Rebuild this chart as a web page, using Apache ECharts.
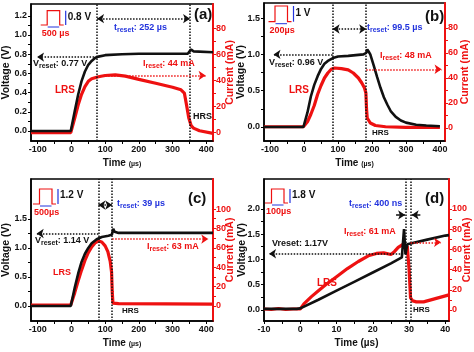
<!DOCTYPE html>
<html>
<head>
<meta charset="utf-8">
<script src="https://cdn.jsdelivr.net/npm/echarts@6/dist/echarts.min.js"></script>
<style>
  html, body { margin: 0; padding: 0; background: #fff; }
  #main { width: 474px; height: 352px; }
</style>
</head>
<body>
<div id="main"></div>
<script>
// ---- data: [time, value] ----
// panel (a)
const voltA = [[-120,0],[-2,0],[0,0.02],[10,0.21],[20,0.38],[30,0.52],[40,0.62],[50,0.69],[60,0.73],[70,0.76],[80,0.775],[100,0.79],[150,0.8],[200,0.805],[300,0.805],[345,0.805],[350,0.82],[355,0.85],[362,0.83],[420,0.82]];
const currA = [[-120,-0.5],[-2,-0.5],[0,1],[10,11],[20,21],[30,29],[40,35],[50,39],[60,41],[80,42.5],[100,43.5],[130,44],[160,43],[200,40.5],[250,37.5],[300,34.5],[325,32.5],[335,30],[342,20],[348,11],[355,5],[362,3],[380,1],[420,-1]];
// panel (b)
const voltB = [[-118,0],[-2,0],[0,0.02],[10,0.2],[20,0.42],[30,0.58],[40,0.7],[50,0.8],[60,0.87],[70,0.91],[85,0.95],[100,0.97],[130,0.98],[175,1.0],[183,1.02],[186,1.07],[190,1.04],[195,1.0],[205,0.85],[215,0.69],[225,0.54],[235,0.41],[245,0.31],[255,0.22],[270,0.14],[285,0.09],[300,0.06],[330,0.03],[360,0.02],[400,0.01]];
const currB = [[-118,1],[-2,1],[0,2],[10,5],[20,11],[30,18],[40,27],[50,34],[60,40],[70,44],[80,47],[90,48],[110,47.5],[130,46.5],[145,44],[160,40],[170,36],[178,32],[182,28],[184,15],[186,8],[195,4],[210,2],[240,1],[300,0.5],[400,0.5]];
// panel (c)
const voltC = [[-120,0],[-2,0],[0,0.02],[10,0.32],[20,0.56],[30,0.76],[40,0.9],[50,1.0],[60,1.08],[75,1.15],[90,1.19],[110,1.21],[120,1.23],[124,1.33],[128,1.28],[140,1.26],[420,1.26]];
const currC = [[-120,1],[-2,1],[0,2],[10,14],[20,26],[30,37],[40,47],[50,55],[60,61],[70,65],[80,67],[90,66],[100,62],[108,56],[115,46],[119,35],[121,15],[123,3],[140,2.5],[420,2]];
// panel (d)
const voltD = [[-10,0.02],[-1,0.02],[0,0.03],[5,0.2],[10,0.38],[15,0.56],[20,0.74],[25,0.92],[28,1.04],[28.6,1.6],[29,1.1],[29.5,1.3],[30,1.31],[35,1.39],[40,1.47],[41,1.48]];
const currD = [[-10,1],[-8,0.5],[-6,1.5],[-4,0.5],[-2,1],[0,1],[1,6],[3,13],[5,19],[7,25],[10,33],[13,41],[16,48],[19,54],[21,56],[23,56.5],[25,55],[26,58],[27,62],[28.3,65],[29.5,63],[30,40],[30.4,12],[31,9],[32,8],[34,8],[36,10],[38,12],[41,15]];

// tick labels
const timeTicks = [-100,0,100,200,300,400];
const timeTicksD = [-10,0,10,20,30,40];
const voltTicksA = [0,0.2,0.4,0.6,0.8,1.0,1.2];
const voltTicksB = [0,0.5,1.0,1.5];
const voltTicksD = [0,0.5,1.0,1.5,2.0];
const currTicks = [0,20,40,60,80];
const currTicksCD = [0,20,40,60,80,100];

// markers (dotted lines / arrows)
const resetLinesA = [76, 352], resetLinesB = [84, 183], resetLinesC = [80, 121], resetLinesD = [29.2, 30.4];

const FONT = 'Liberation Sans, Arial, sans-serif';
const RED = '#ee1111', BLUE = '#2233dd';

function halfSteps(t) {
  const out = [];
  for (let i = 0; i < t.length; i++) {
    out.push(t[i]);
    if (i < t.length - 1) out.push((t[i] + t[i + 1]) / 2);
  }
  return out;
}

function xAxis(gi, min, max, ticks, small) {
  return {
    type: 'value', gridIndex: gi, min: min, max: max,
    name: small ? '{a|Time }{b|(µs)}' : '{a|Time (µs)}',
    nameLocation: 'middle', nameGap: 17,
    nameTextStyle: { rich: {
      a: { fontFamily: FONT, fontWeight: 'bold', fontSize: 10, color: '#111' },
      b: { fontFamily: FONT, fontWeight: 'bold', fontSize: 7, color: '#111', padding: [2, 0, 0, 0] }
    } },
    axisLine: { onZero: false, lineStyle: { color: '#000', width: 1.5 } },
    axisTick: { customValues: halfSteps(ticks), length: 3, lineStyle: { color: '#000', width: 1 } },
    axisLabel: { customValues: ticks, fontFamily: FONT, fontWeight: 'bold', fontSize: 9, color: '#111', margin: 4 },
    splitLine: { show: false }
  };
}

function vAxis(gi, min, max, ticks, gap) {
  return {
    type: 'value', gridIndex: gi, min: min, max: max, position: 'left',
    name: 'Voltage (V)', nameLocation: 'middle', nameGap: gap, nameRotate: 90, nameMoveOverlap: false,
    nameTextStyle: { fontFamily: FONT, fontWeight: 'bold', fontSize: 10.5, color: '#111' },
    axisLine: { onZero: false, lineStyle: { color: '#000', width: 1.5 } },
    axisTick: { customValues: halfSteps(ticks), length: 3, lineStyle: { color: '#000', width: 1 } },
    axisLabel: { customValues: ticks, formatter: v => v.toFixed(1), fontFamily: FONT, fontWeight: 'bold', fontSize: 9, color: '#111', margin: 4 },
    splitLine: { show: false }
  };
}

function cAxis(gi, min, max, ticks, gap) {
  return {
    type: 'value', gridIndex: gi, min: min, max: max, position: 'right',
    name: 'Current (mA)', nameLocation: 'middle', nameGap: gap, nameRotate: 90, nameMoveOverlap: false,
    nameTextStyle: { fontFamily: FONT, fontWeight: 'bold', fontSize: 10.5, color: RED },
    axisLine: { onZero: false, lineStyle: { color: RED, width: 2 } },
    axisTick: { customValues: halfSteps(ticks), length: 3, lineStyle: { color: RED, width: 1 } },
    axisLabel: { customValues: ticks, fontFamily: FONT, fontWeight: 'bold', fontSize: 9, color: RED, margin: 3 },
    splitLine: { show: false }
  };
}

function dotted(color) { return { type: 'dotted', color: color, width: 1.5 }; }

function arrowLine(x1, x2, y, s1, s2, color) {
  return [
    { coord: [x1, y], symbol: s1, lineStyle: dotted(color) },
    { coord: [x2, y], symbol: s2 }
  ];
}

function voltSeries(gi, data, lines, arrows) {
  return {
    type: 'line', xAxisIndex: gi, yAxisIndex: gi * 2, data: data,
    showSymbol: false, lineStyle: { color: '#111', width: 2.6 }, z: 3,
    markLine: {
      silent: true, symbol: 'none', symbolSize: 7, animation: false,
      label: { show: false },
      lineStyle: dotted('#111'),
      data: lines.map(v => ({ xAxis: v })).concat(arrows)
    }
  };
}

function currSeries(gi, data, arrows) {
  return {
    type: 'line', xAxisIndex: gi, yAxisIndex: gi * 2 + 1, data: data,
    showSymbol: false, lineStyle: { color: RED, width: 3.2 }, z: 2,
    markLine: {
      silent: true, symbol: 'none', symbolSize: 7, animation: false,
      label: { show: false }, lineStyle: dotted(RED),
      data: arrows
    }
  };
}

// graphic helpers
const sub = {
  m: { fontFamily: FONT, fontWeight: 'bold', fontSize: 9, lineHeight: 12, verticalAlign: 'bottom' },
  s: { fontFamily: FONT, fontWeight: 'bold', fontSize: 7, lineHeight: 10, verticalAlign: 'bottom', padding: [0, 0, -2, 0] }
};
function txt(x, y, text, color, size, rich) {
  return {
    type: 'text', left: x, top: y, silent: true, z: 10,
    style: { text: text, fill: color, font: 'bold ' + size + 'px ' + FONT, rich: rich }
  };
}
function subTxt(x, y, head, tail, color) {
  return txt(x, y, '{m|' + head + '}{s|reset}{m|' + tail + '}', color, 9, {
    m: Object.assign({}, sub.m, { color: color }),
    s: Object.assign({}, sub.s, { color: color })
  });
}
function pulse(x0, yt, yb, ampl, width) {
  const g = [];
  g.push({ type: 'polyline', silent: true, z: 10,
    shape: { points: [[x0, yb], [x0 + 6.5, yb], [x0 + 6.5, yt], [x0 + 19, yt], [x0 + 19, yb], [x0 + 23, yb]] },
    style: { stroke: RED, lineWidth: 1.2, fill: null } });
  g.push({ type: 'line', silent: true, z: 10, shape: { x1: x0 + 25, y1: yt, x2: x0 + 25, y2: yb }, style: { stroke: BLUE, lineWidth: 1.2 } });
  g.push({ type: 'line', silent: true, z: 10, shape: { x1: x0 + 7, y1: yb + 2, x2: x0 + 18.5, y2: yb + 2 }, style: { stroke: BLUE, lineWidth: 1 } });
  g.push(txt(x0 + 27, (yt + yb) / 2 - 6, ampl, '#111', 10));
  g.push(txt(x0 + 1, yb + 4, width, RED, 9));
  return g;
}

const myChart = echarts.init(document.getElementById('main'), null, { renderer: 'canvas' });

const option = {
  backgroundColor: '#fff',
  animation: false,
  grid: [
    { left: 31, top: 4, width: 182, height: 137, show: true, borderColor: '#000', borderWidth: 1.5 },
    { left: 264, top: 3, width: 181, height: 138, show: true, borderColor: '#000', borderWidth: 1.5 },
    { left: 31, top: 179, width: 182, height: 142, show: true, borderColor: '#000', borderWidth: 1.5 },
    { left: 264, top: 179, width: 185, height: 142, show: true, borderColor: '#000', borderWidth: 1.5 }
  ],
  xAxis: [
    xAxis(0, -120, 420, timeTicks, true),
    xAxis(1, -118, 415, timeTicks, true),
    xAxis(2, -120, 420, timeTicks, true),
    xAxis(3, -10, 41, timeTicksD, false)
  ],
  yAxis: [
    vAxis(0, -0.104, 1.323, voltTicksA, 19), cAxis(0, -6.9, 98.5, currTicks, 12),
    vAxis(1, -0.193, 1.708, voltTicksB, 17), cAxis(1, -10.4, 100, currTicks, 15),
    vAxis(2, -0.26, 2.19, voltTicksB, 19), cAxis(2, -15.5, 131, currTicksCD, 12),
    vAxis(3, -0.22, 2.59, voltTicksD, 16), cAxis(3, -10.9, 129.7, currTicksCD, 13)
  ],
  series: [
    voltSeries(0, voltA, resetLinesA, [
      arrowLine(76, 352, 1.17, 'arrow', 'arrow', '#111'),
      arrowLine(76, -102, 0.77, 'none', 'arrow', '#111')
    ]),
    currSeries(0, currA, [arrowLine(100, 398, 43.5, 'none', 'arrow', RED)]),
    voltSeries(1, voltB, resetLinesB, [
      arrowLine(84, 183, 1.35, 'arrow', 'arrow', '#111'),
      arrowLine(84, -90, 1.0, 'none', 'arrow', '#111')
    ]),
    currSeries(1, currB, [arrowLine(183, 405, 47, 'none', 'arrow', RED)]),
    voltSeries(2, voltC, resetLinesC, [
      arrowLine(80, 121, 1.74, 'arrow', 'arrow', '#111'),
      arrowLine(80, -103, 1.25, 'none', 'arrow', '#111')
    ]),
    currSeries(2, currC, [arrowLine(121, 406, 69, 'none', 'arrow', RED)]),
    voltSeries(3, voltD, resetLinesD, [
      arrowLine(29.2, -8.6, 1.11, 'none', 'arrow', '#111')
    ]),
    currSeries(3, currD, [arrowLine(30.4, 38.8, 67, 'none', 'arrow', RED)]),
    {
      // the two solid arrows squeezing t_reset in (d)
      type: 'line', xAxisIndex: 3, yAxisIndex: 6, data: [],
      markLine: {
        silent: true, symbol: 'none', symbolSize: 7, animation: false, label: { show: false },
        lineStyle: { type: 'solid', color: '#111', width: 1.5 },
        data: [
          [{ coord: [26.4, 1.88] }, { coord: [28.9, 1.88], symbol: 'arrow' }],
          [{ coord: [33.1, 1.88] }, { coord: [30.7, 1.88], symbol: 'arrow' }]
        ]
      }
    }
  ],
  graphic: [].concat(
    // (a)
    pulse(40.7, 10.7, 25, '0.8 V', '500 µs'),
    [
      txt(194, 7, '(a)', '#111', 15),
      txt(114, 23, '{m|t}{s|reset}{m|: 252 µs}', BLUE, 9, { m: Object.assign({}, sub.m, { color: BLUE }), s: Object.assign({}, sub.s, { color: BLUE }) }),
      subTxt(33, 59, 'V', ': 0.77 V', '#111'),
      subTxt(143, 59, 'I', ': 44 mA', RED),
      txt(55, 85, 'LRS', RED, 10),
      txt(193, 112, 'HRS', '#111', 9)
    ],
    // (b)
    pulse(268.5, 6, 21.7, '1 V', '200µs'),
    [
      txt(425, 9, '(b)', '#111', 15),
      txt(367, 23, '{m|t}{s|reset}{m|: 99.5 µs}', BLUE, 9, { m: Object.assign({}, sub.m, { color: BLUE }), s: Object.assign({}, sub.s, { color: BLUE }) }),
      subTxt(269, 58, 'V', ': 0.96 V', '#111'),
      subTxt(380, 51, 'I', ': 48 mA', RED),
      txt(289, 85, 'LRS', RED, 10),
      txt(372, 129, 'HRS', '#111', 8)
    ],
    // (c)
    pulse(33, 189, 204, '1.2 V', '500µs'),
    [
      txt(188, 191, '(c)', '#111', 15),
      txt(117, 199, '{m|t}{s|reset}{m|: 39 µs}', BLUE, 9, { m: Object.assign({}, sub.m, { color: BLUE }), s: Object.assign({}, sub.s, { color: BLUE }) }),
      subTxt(35, 236, 'V', ': 1.14 V', '#111'),
      subTxt(147, 242, 'I', ': 63 mA', RED),
      txt(53, 268, 'LRS', RED, 9),
      txt(122, 307, 'HRS', '#111', 8)
    ],
    // (d)
    pulse(265, 189, 203, '1.8 V', '100µs'),
    [
      txt(425, 191, '(d)', '#111', 15),
      txt(349, 199, '{m|t}{s|reset}{m|: 400 ns}', BLUE, 9, { m: Object.assign({}, sub.m, { color: BLUE }), s: Object.assign({}, sub.s, { color: BLUE }) }),
      txt(272, 239, 'Vreset: 1.17V', '#111', 9),
      subTxt(344, 227, 'I', ': 61 mA', RED),
      txt(317, 278, 'LRS', RED, 10),
      txt(413, 306, 'HRS', '#111', 8)
    ]
  )
};

myChart.setOption(option);
</script>
</body>
</html>
